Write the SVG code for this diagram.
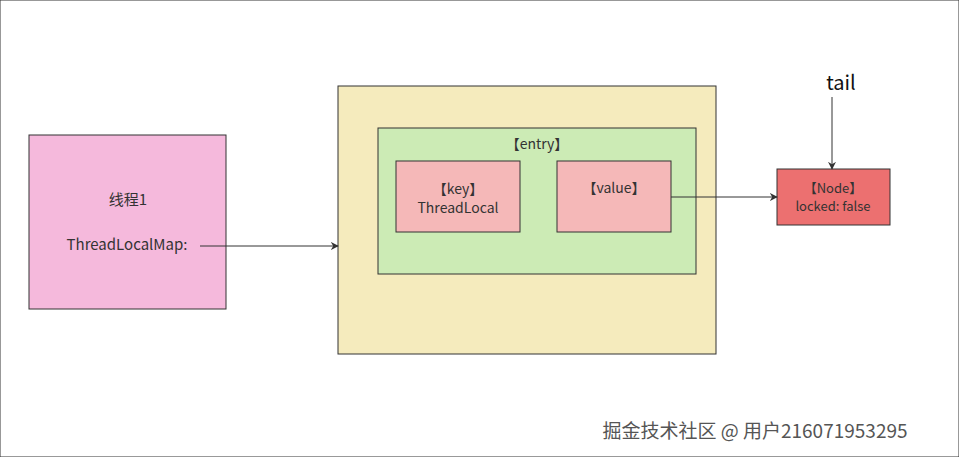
<svg xmlns="http://www.w3.org/2000/svg" width="959" height="457" viewBox="0 0 959 457">
<style>
rect{stroke:#333;stroke-width:1}
text{font-family:"Microsoft YaHei","Noto Sans CJK SC","Noto Sans",sans-serif;fill:#333;text-anchor:middle}
.c{stroke:#333;stroke-width:1;fill:none;marker-end:url(#a)}
</style>
<defs><marker id="a" viewBox="0 0 10 10" refX="9" refY="5" markerWidth="8" markerHeight="8" orient="auto" markerUnits="userSpaceOnUse"><path d="M0,0L10,5L0,10L3,5z" fill="#333"/></marker></defs>
<rect width="959" height="457" fill="#fff" stroke="none"/>
<g id="thread"><rect x="29" y="135" width="197" height="174" fill="#f5b9dc"/>
<text x="128" y="205" font-size="15">线程1</text><text x="127" y="250" font-size="15">ThreadLocalMap:</text></g>
<g id="outer"><rect x="338" y="86" width="378" height="268" fill="#f5ebbd"/></g>
<g id="entry"><rect x="378" y="128" width="318" height="146" fill="#ccebb5"/><text x="537" y="149" font-size="14">【entry】</text></g>
<g id="key"><rect x="396" y="161" width="124" height="71" fill="#f5b8b8"/><text x="458" y="194" font-size="14">【key】</text><text x="458" y="213" font-size="14">ThreadLocal</text></g>
<g id="value"><rect x="557" y="161" width="114" height="71" fill="#f5b8b8"/><text x="614" y="193" font-size="14">【value】</text></g>
<g id="node"><rect x="777" y="169" width="113" height="56" fill="#ec7070"/><text x="833" y="193" font-size="13">【Node】</text><text x="833" y="211" font-size="13">locked: false</text></g>
<g id="tail"><text x="841" y="90" font-size="20" fill="#000" style="fill:#111">tail</text></g>
<g id="connectors">
<path class="c" d="M200,246H338"/>
<path class="c" d="M671,197H777"/>
<path class="c" d="M832,97V169"/>
</g>
<text x="755" y="438" font-size="19" style="fill:#555">掘金技术社区 @ 用户216071953295</text>
</svg>
